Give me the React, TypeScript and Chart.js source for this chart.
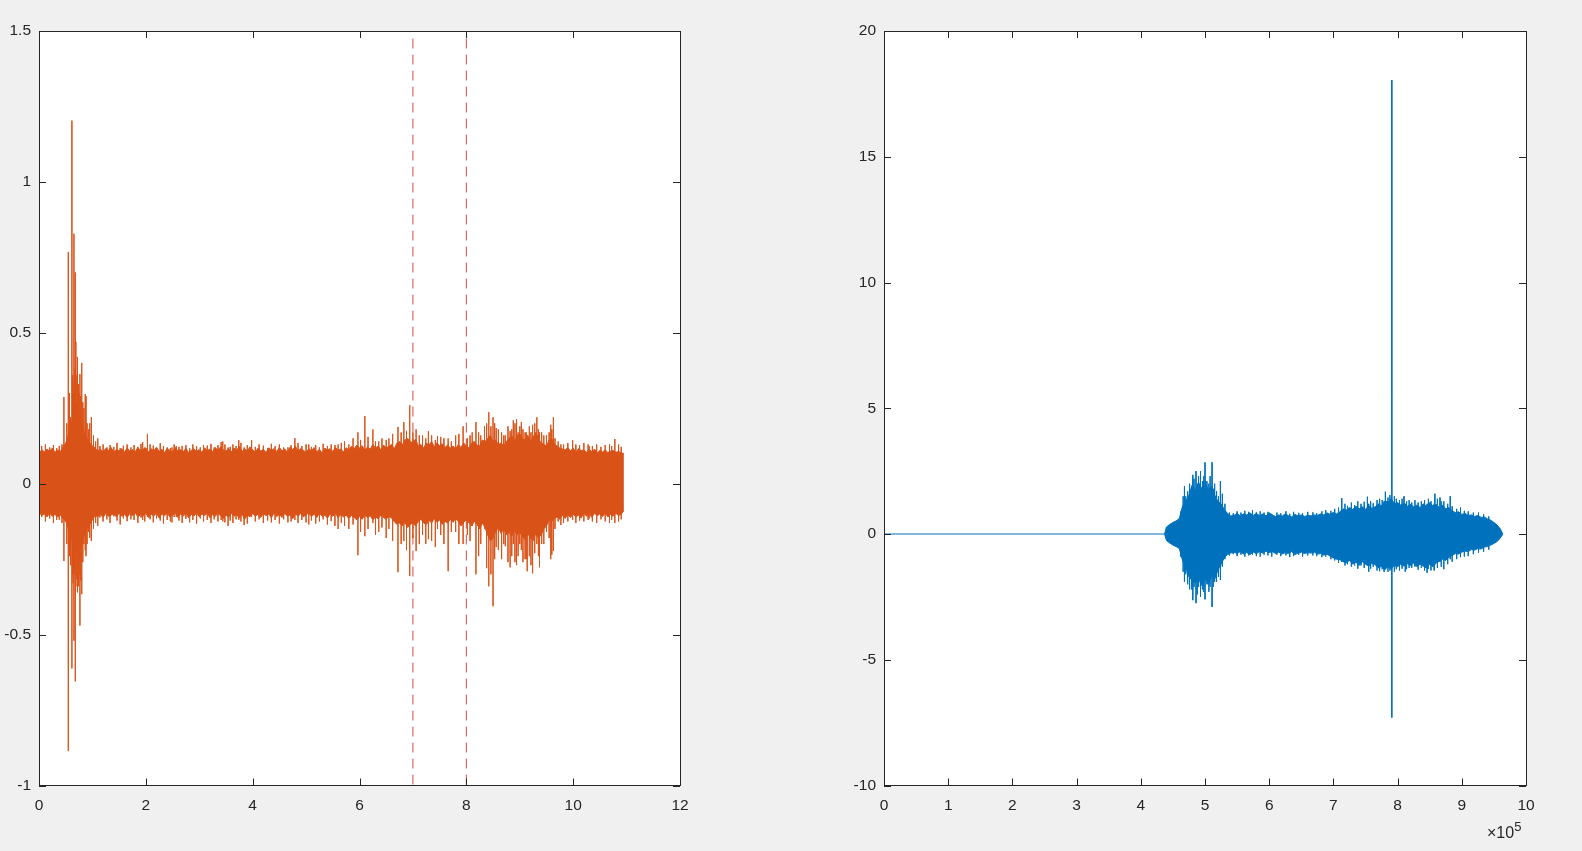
// App.tsx
import React, { useEffect, useRef } from 'react';
import { Chart, registerables } from 'chart.js';

Chart.register(...registerables);

const yTicksLeft = [-1, -0.5, 0, 0.5, 1, 1.5];
const xTicksLeft = [0, 2, 4, 6, 8, 10, 12];
const yTicksRight = [-10, -5, 0, 5, 10, 15, 20];
const xTicksRight = [0, 1, 2, 3, 4, 5, 6, 7, 8, 9, 10];

// left signal, outline of the solid body
const leftX = [
  0, 0.05, 0.1, 0.15, 0.2, 0.25, 0.3, 0.35, 0.4, 0.45,
  0.5, 0.55, 0.6, 0.65, 0.7, 0.75, 0.8, 0.85, 0.9, 0.95,
  1, 1.05, 1.1, 1.15, 1.2, 1.25, 1.3, 1.35, 1.4, 1.45,
  1.5, 1.55, 1.6, 1.65, 1.7, 1.75, 1.8, 1.85, 1.9, 1.95,
  2, 2.05, 2.1, 2.15, 2.2, 2.25, 2.3, 2.35, 2.4, 2.45,
  2.5, 2.55, 2.6, 2.65, 2.7, 2.75, 2.8, 2.85, 2.9, 2.95,
  3, 3.05, 3.1, 3.15, 3.2, 3.25, 3.3, 3.35, 3.4, 3.45,
  3.5, 3.55, 3.6, 3.65, 3.7, 3.75, 3.8, 3.85, 3.9, 3.95,
  4, 4.05, 4.1, 4.15, 4.2, 4.25, 4.3, 4.35, 4.4, 4.45,
  4.5, 4.55, 4.6, 4.65, 4.7, 4.75, 4.8, 4.85, 4.9, 4.95,
  5, 5.05, 5.1, 5.15, 5.2, 5.25, 5.3, 5.35, 5.4, 5.45,
  5.5, 5.55, 5.6, 5.65, 5.7, 5.75, 5.8, 5.85, 5.9, 5.95,
  6, 6.05, 6.1, 6.15, 6.2, 6.25, 6.3, 6.35, 6.4, 6.45,
  6.5, 6.55, 6.6, 6.65, 6.7, 6.75, 6.8, 6.85, 6.9, 6.95,
  7, 7.05, 7.1, 7.15, 7.2, 7.25, 7.3, 7.35, 7.4, 7.45,
  7.5, 7.55, 7.6, 7.65, 7.7, 7.75, 7.8, 7.85, 7.9, 7.95,
  8, 8.05, 8.1, 8.15, 8.2, 8.25, 8.3, 8.35, 8.4, 8.45,
  8.5, 8.55, 8.6, 8.65, 8.7, 8.75, 8.8, 8.85, 8.9, 8.95,
  9, 9.05, 9.1, 9.15, 9.2, 9.25, 9.3, 9.35, 9.4, 9.45,
  9.5, 9.55, 9.6, 9.65, 9.7, 9.75, 9.8, 9.85, 9.9, 9.95,
  10, 10.05, 10.1, 10.15, 10.2, 10.25, 10.3, 10.35, 10.4, 10.45,
  10.5, 10.55, 10.6, 10.65, 10.7, 10.75, 10.8, 10.85, 10.9, 10.95,
];
const leftHi = [
  0.102, 0.112, 0.106, 0.114, 0.108, 0.118, 0.104, 0.112, 0.107, 0.122,
  0.135, 0.16, 0.195, 0.235, 0.262, 0.24, 0.195, 0.17, 0.15, 0.135,
  0.125, 0.118, 0.108, 0.114, 0.106, 0.117, 0.11, 0.12, 0.105, 0.113,
  0.109, 0.116, 0.104, 0.119, 0.108, 0.113, 0.106, 0.12, 0.11, 0.115,
  0.118, 0.105, 0.116, 0.109, 0.121, 0.107, 0.114, 0.103, 0.117, 0.11,
  0.104, 0.12, 0.108, 0.113, 0.105, 0.118, 0.102, 0.111, 0.116, 0.107,
  0.113, 0.104, 0.119, 0.109, 0.115, 0.106, 0.12, 0.11, 0.122, 0.112,
  0.108, 0.116, 0.105, 0.118, 0.11, 0.124, 0.107, 0.115, 0.109, 0.122,
  0.112, 0.105, 0.118, 0.108, 0.114, 0.103, 0.119, 0.11, 0.116, 0.107,
  0.12, 0.109, 0.115, 0.105, 0.121, 0.113, 0.124, 0.108, 0.117, 0.11,
  0.104, 0.116, 0.109, 0.12, 0.106, 0.114, 0.102, 0.118, 0.111, 0.116,
  0.107, 0.121, 0.11, 0.115, 0.105, 0.119, 0.112, 0.124, 0.116, 0.128,
  0.118, 0.126, 0.11, 0.122, 0.114, 0.13, 0.118, 0.125, 0.112, 0.128,
  0.119, 0.124, 0.13, 0.115, 0.135, 0.14, 0.128, 0.145, 0.15, 0.14,
  0.135, 0.148, 0.125, 0.13, 0.118, 0.135, 0.128, 0.14, 0.122, 0.136,
  0.125, 0.132, 0.12, 0.128, 0.118, 0.125, 0.115, 0.13, 0.12, 0.135,
  0.125, 0.118, 0.135, 0.14, 0.128, 0.125, 0.145, 0.14, 0.15, 0.16,
  0.14, 0.145, 0.13, 0.135, 0.125, 0.14, 0.15, 0.16, 0.14, 0.158,
  0.165, 0.15, 0.145, 0.16, 0.14, 0.155, 0.17, 0.15, 0.135, 0.13,
  0.125, 0.145, 0.15, 0.13, 0.125, 0.118, 0.115, 0.112, 0.12, 0.108,
  0.118, 0.105, 0.116, 0.11, 0.112, 0.104, 0.114, 0.106, 0.115, 0.102,
  0.11, 0.105, 0.112, 0.103, 0.108, 0.11, 0.104, 0.107, 0.102, 0.1,
];
const leftLo = [
  -0.095, -0.105, -0.1, -0.11, -0.098, -0.108, -0.102, -0.11, -0.104, -0.115,
  -0.125, -0.15, -0.18, -0.21, -0.235, -0.22, -0.19, -0.175, -0.15, -0.135,
  -0.12, -0.105, -0.11, -0.1, -0.112, -0.098, -0.108, -0.104, -0.1, -0.11,
  -0.097, -0.108, -0.102, -0.112, -0.099, -0.106, -0.096, -0.11, -0.103, -0.108,
  -0.098, -0.112, -0.101, -0.107, -0.097, -0.114, -0.1, -0.106, -0.098, -0.11,
  -0.104, -0.096, -0.112, -0.1, -0.108, -0.098, -0.113, -0.102, -0.107, -0.097,
  -0.11, -0.1, -0.106, -0.097, -0.113, -0.102, -0.108, -0.099, -0.105, -0.115,
  -0.103, -0.112, -0.098, -0.108, -0.102, -0.114, -0.1, -0.118, -0.104, -0.11,
  -0.098, -0.108, -0.101, -0.112, -0.098, -0.106, -0.1, -0.113, -0.097, -0.109,
  -0.102, -0.112, -0.099, -0.107, -0.104, -0.116, -0.1, -0.108, -0.098, -0.11,
  -0.103, -0.097, -0.109, -0.101, -0.112, -0.098, -0.108, -0.104, -0.114, -0.1,
  -0.108, -0.098, -0.113, -0.102, -0.11, -0.104, -0.116, -0.105, -0.112, -0.12,
  -0.108, -0.118, -0.104, -0.112, -0.106, -0.12, -0.11, -0.116, -0.104, -0.112,
  -0.118, -0.108, -0.114, -0.125, -0.135, -0.13, -0.14, -0.128, -0.145, -0.135,
  -0.13, -0.14, -0.125, -0.118, -0.13, -0.135, -0.122, -0.13, -0.115, -0.128,
  -0.12, -0.135, -0.125, -0.13, -0.118, -0.128, -0.115, -0.125, -0.14, -0.128,
  -0.12, -0.13, -0.14, -0.125, -0.135, -0.15, -0.13, -0.145, -0.17, -0.19,
  -0.18, -0.16, -0.145, -0.165, -0.15, -0.17, -0.16, -0.175, -0.155, -0.17,
  -0.16, -0.175, -0.185, -0.165, -0.18, -0.19, -0.165, -0.18, -0.17, -0.15,
  -0.14, -0.12, -0.125, -0.115, -0.11, -0.118, -0.105, -0.115, -0.102, -0.112,
  -0.1, -0.11, -0.104, -0.114, -0.098, -0.108, -0.1, -0.112, -0.098, -0.106,
  -0.1, -0.109, -0.097, -0.11, -0.102, -0.108, -0.098, -0.106, -0.1, -0.09,
];

// left signal, the tall single spikes
const leftSpikeX = [
  0.466, 0.549, 0.616, 0.654, 0.68, 0.69, 0.71, 0.766, 0.8, 0.866, 0.95, 1.1,
  2.03, 2.49, 2.57, 1.94, 3.41, 3.54, 3.44, 3.74, 3.84, 3.98, 4.66, 4.79, 5.05, 5.6,
  5.97, 6.1, 6.25, 6.36, 6.55, 6.72, 6.83, 6.94, 7.06, 7.18, 7.29, 7.46, 7.66, 7.8, 7.94,
  8.11, 8.18, 8.27, 8.34, 8.42, 8.5, 8.56, 8.73, 8.82, 8.88, 8.94, 8.97, 9.03, 9.1,
  9.14, 9.24, 9.32, 9.37, 9.45, 9.58, 9.63, 9.77, 9.99, 10.3, 10.78,
];
const leftSpikeHi = [
  0.287, 0.768, 1.203, 0.828, 0.7, 0.47, 0.36, 0.363, 0.4, 0.297, 0.2, 0.15,
  0.165, 0.12, 0.125, 0.138, 0.138, 0.12, 0.14, 0.144, 0.12, 0.144, 0.12, 0.151, 0.13, 0.13,
  0.17, 0.224, 0.18, 0.14, 0.15, 0.188, 0.204, 0.26, 0.18, 0.16, 0.174, 0.158, 0.15, 0.16, 0.19,
  0.17, 0.204, 0.16, 0.19, 0.237, 0.22, 0.184, 0.16, 0.174, 0.21, 0.214, 0.17, 0.204, 0.17,
  0.16, 0.195, 0.22, 0.17, 0.16, 0.195, 0.22, 0.13, 0.144, 0.125, 0.148,
];
const leftSpikeLo = [
  -0.256, -0.886, -0.612, -0.52, -0.655, -0.34, -0.316, -0.47, -0.366, -0.22, -0.18, -0.14,
  -0.11, -0.128, -0.11, -0.12, -0.12, -0.14, -0.125, -0.12, -0.137, -0.11, -0.128, -0.12, -0.135, -0.15,
  -0.237, -0.174, -0.13, -0.16, -0.15, -0.293, -0.19, -0.306, -0.223, -0.17, -0.184, -0.15, -0.29, -0.16, -0.2,
  -0.14, -0.3, -0.2, -0.15, -0.34, -0.406, -0.21, -0.207, -0.277, -0.2, -0.27, -0.24, -0.22, -0.25,
  -0.29, -0.297, -0.2, -0.277, -0.2, -0.25, -0.223, -0.137, -0.12, -0.115, -0.13,
];

// left signal, the small spikes that make the edge of the body rough
const leftFineX = [
  0.05, 0.12, 0.2, 0.27, 0.33, 0.38, 0.43,
  0.52, 0.57, 0.59, 0.63, 0.64, 0.66, 0.67, 0.72, 0.74, 0.75, 0.78, 0.82, 0.84, 0.88, 0.9, 0.93, 0.98, 1.02, 1.06,
  1.14, 1.2, 1.27, 1.33, 1.4, 1.46, 1.52, 1.58, 1.65, 1.72,
  1.78, 1.85, 1.91, 1.98, 2.08, 2.14, 2.2, 2.27, 2.33, 2.4,
  2.46, 2.53, 2.62, 2.68, 2.75, 2.82, 2.88, 2.95, 3.02, 3.08,
  3.15, 3.22, 3.28, 3.35, 3.48, 3.58, 3.63, 3.69, 3.78, 3.9,
  4.05, 4.12, 4.2, 4.28, 4.35, 4.42, 4.5, 4.58, 4.72, 4.85,
  4.92, 5.0, 5.1, 5.18, 5.25, 5.32, 5.4, 5.47, 5.54, 5.66,
  5.72, 5.8, 5.88, 6.02, 6.16, 6.3, 6.42, 6.5, 6.62, 6.78,
  6.88, 7.0, 7.12, 7.24, 7.35, 7.42, 7.52, 7.58, 7.72, 7.86,
  8.02, 8.07, 8.23, 8.38, 8.46, 8.53, 8.6, 8.66, 8.7, 8.78,
  8.85, 8.91, 9.0, 9.06, 9.12, 9.18, 9.21, 9.28, 9.35, 9.41,
  9.5, 9.55, 9.6, 9.66, 9.72, 9.82, 9.9, 10.05, 10.12, 10.2,
  10.28, 10.36, 10.44, 10.52, 10.6, 10.68, 10.72, 10.85, 10.9,
];
const leftFineHi = [
  0.125, 0.13, 0.12, 0.128, 0.118, 0.125, 0.13,
  0.2, 0.3, 0.22, 0.36, 0.3, 0.34, 0.38, 0.42, 0.33, 0.3, 0.29, 0.27, 0.25, 0.29, 0.2, 0.18, 0.22, 0.16, 0.14,
  0.125, 0.13, 0.12, 0.128, 0.122, 0.135, 0.118, 0.126, 0.13, 0.12,
  0.128, 0.122, 0.132, 0.12, 0.13, 0.126, 0.118, 0.134, 0.125, 0.12,
  0.118, 0.13, 0.122, 0.125, 0.128, 0.118, 0.13, 0.124, 0.12, 0.128,
  0.126, 0.132, 0.12, 0.128, 0.13, 0.122, 0.13, 0.125, 0.135, 0.128,
  0.122, 0.13, 0.126, 0.118, 0.132, 0.124, 0.13, 0.12, 0.128, 0.135,
  0.125, 0.13, 0.122, 0.128, 0.12, 0.132, 0.125, 0.13, 0.128, 0.135,
  0.14, 0.13, 0.15, 0.145, 0.155, 0.14, 0.15, 0.145, 0.165, 0.17,
  0.175, 0.17, 0.16, 0.15, 0.16, 0.145, 0.155, 0.15, 0.14, 0.165,
  0.15, 0.16, 0.17, 0.2, 0.19, 0.2, 0.18, 0.17, 0.16, 0.19,
  0.18, 0.2, 0.19, 0.18, 0.17, 0.19, 0.17, 0.2, 0.18, 0.17,
  0.16, 0.17, 0.18, 0.15, 0.14, 0.13, 0.135, 0.13, 0.128, 0.135,
  0.13, 0.125, 0.13, 0.122, 0.128, 0.13, 0.125, 0.13, 0.122,
];
const leftFineLo = [
  -0.11, -0.125, -0.115, -0.13, -0.12, -0.12, -0.13,
  -0.2, -0.24, -0.27, -0.3, -0.33, -0.28, -0.3, -0.36, -0.34, -0.3, -0.32, -0.26, -0.2, -0.24, -0.2, -0.16, -0.19, -0.15, -0.13,
  -0.112, -0.125, -0.118, -0.13, -0.108, -0.122, -0.135, -0.115, -0.124, -0.118,
  -0.12, -0.13, -0.112, -0.125, -0.118, -0.128, -0.115, -0.122, -0.132, -0.12,
  -0.125, -0.11, -0.122, -0.13, -0.116, -0.128, -0.12, -0.132, -0.115, -0.125,
  -0.12, -0.13, -0.118, -0.125, -0.128, -0.122, -0.13, -0.118, -0.125, -0.132,
  -0.125, -0.118, -0.13, -0.122, -0.128, -0.12, -0.132, -0.118, -0.125, -0.13,
  -0.12, -0.128, -0.122, -0.132, -0.125, -0.118, -0.135, -0.124, -0.14, -0.13,
  -0.14, -0.15, -0.135, -0.16, -0.15, -0.17, -0.145, -0.18, -0.19, -0.2,
  -0.22, -0.18, -0.2, -0.2, -0.19, -0.21, -0.17, -0.2, -0.16, -0.2,
  -0.17, -0.19, -0.24, -0.28, -0.3, -0.25, -0.22, -0.25, -0.2, -0.26,
  -0.24, -0.26, -0.2, -0.26, -0.25, -0.24, -0.27, -0.23, -0.24, -0.2,
  -0.16, -0.18, -0.235, -0.15, -0.125, -0.13, -0.125, -0.13, -0.122, -0.125,
  -0.12, -0.125, -0.13, -0.118, -0.125, -0.13, -0.12, -0.125, -0.118,
];
const markerX = [7, 8];
const markerTop = 1.475;

// right signal, x in units of 1e5
const rightFlatX = [0, 4.37];
const rightFlatY = [0, 0];
const rightX = [
  4.37, 4.4, 4.45, 4.5, 4.55, 4.6, 4.65, 4.7, 4.75, 4.8, 4.85, 4.9, 4.95, 5, 5.05, 5.1, 5.15, 5.2, 5.25, 5.3, 5.35, 5.4,
  5.45, 5.5, 5.55, 5.6, 5.65, 5.7, 5.75, 5.8, 5.85, 5.9, 5.95, 6, 6.05, 6.1,
  6.15, 6.2, 6.25, 6.3, 6.35, 6.4, 6.45, 6.5, 6.55, 6.6,
  6.65, 6.7, 6.75, 6.8, 6.85, 6.9, 6.95, 7, 7.05, 7.1,
  7.15, 7.2, 7.25, 7.3, 7.35, 7.4, 7.45, 7.5, 7.55, 7.6,
  7.65, 7.7, 7.75, 7.8, 7.85, 7.9, 7.95, 8, 8.05, 8.1,
  8.15, 8.2, 8.25, 8.3, 8.35, 8.4, 8.45, 8.5, 8.55, 8.6,
  8.65, 8.7, 8.75, 8.8, 8.85, 8.9, 8.95, 9, 9.05, 9.1,
  9.15, 9.2, 9.25, 9.3, 9.35, 9.4, 9.45, 9.5, 9.55, 9.6, 9.64,
];
const rightHi = [
  0, 0.28, 0.38, 0.46, 0.52, 0.62, 1.1, 1.3, 1.55, 1.95, 1.7, 2.05, 1.8, 2.1, 1.75, 1.9, 1.55, 1.3, 1.2, 0.98, 0.82, 0.72,
  0.74, 0.82, 0.72, 0.8, 0.76, 0.84, 0.74, 0.82, 0.73, 0.8, 0.72, 0.84, 0.75, 0.7,
  0.76, 0.71, 0.8, 0.73, 0.68, 0.78, 0.72, 0.76, 0.7, 0.74,
  0.72, 0.76, 0.74, 0.8, 0.76, 0.84, 0.78, 0.86, 0.8, 0.88,
  1.0, 0.95, 1.05, 0.98, 1.1, 1.0, 1.08, 0.98, 1.12, 1.02,
  1.08, 1.2, 1.12, 1.3, 1.28, 1.4, 1.2, 1.25, 1.15, 1.22,
  1.1, 1.18, 1.08, 1.15, 1.05, 1.2, 1.1, 1.25, 1.12, 1.18,
  1.05, 1.15, 1.0, 1.05, 0.92, 0.85, 0.88, 0.78, 0.82, 0.74,
  0.76, 0.7, 0.74, 0.66, 0.68, 0.6, 0.55, 0.46, 0.36, 0.2, 0,
];
const rightLo = [
  0, -0.26, -0.36, -0.44, -0.5, -0.58, -1.05, -1.35, -1.7, -1.85, -1.95, -1.8, -2.05, -1.75, -2.0, -1.7, -1.8, -1.45, -1.2, -0.95, -0.82, -0.76,
  -0.72, -0.78, -0.7, -0.8, -0.74, -0.82, -0.72, -0.78, -0.7, -0.76, -0.68, -0.74, -0.7, -0.78,
  -0.72, -0.8, -0.74, -0.78, -0.7, -0.82, -0.76, -0.72, -0.78, -0.74,
  -0.76, -0.72, -0.8, -0.78, -0.84, -0.8, -0.88, -0.95, -1.0, -1.02,
  -1.1, -1.15, -1.05, -1.2, -1.12, -1.25, -1.1, -1.2, -1.28, -1.15,
  -1.22, -1.35, -1.28, -1.42, -1.3, -1.38, -1.25, -1.3, -1.2, -1.28,
  -1.18, -1.25, -1.15, -1.3, -1.2, -1.28, -1.35, -1.2, -1.3, -1.15,
  -1.08, -1.0, -1.05, -0.92, -0.85, -0.78, -0.8, -0.72, -0.68, -0.7,
  -0.62, -0.64, -0.58, -0.6, -0.52, -0.5, -0.44, -0.38, -0.3, -0.16, 0,
];
const rightSpikeX = [4.68, 4.81, 4.86, 4.93, 5.0, 5.11, 5.24, 7.13, 7.53, 7.55, 7.79, 7.81, 7.91, 8.1, 8.12, 8.46, 8.57, 8.58, 8.66, 8.82];
const rightSpikeHi = [1.9, 2.35, 2.5, 2.5, 2.85, 2.85, 2.1, 1.43, 1.48, 1.2, 1.3, 1.68, 18.05, 1.5, 1.2, 1.2, 1.2, 1.6, 1.45, 1.5];
const rightSpikeLo = [-1.9, -2.63, -2.75, -2.5, -2.6, -2.9, -1.83, -1.1, -1.2, -1.5, -1.5, -1.3, -7.3, -1.2, -1.5, -1.54, -1.45, -1.2, -1.1, -1.0];
const rightFineX = [
  4.62, 4.66, 4.7, 4.73, 4.76, 4.79, 4.83, 4.88, 4.9, 4.96,
  4.98, 5.03, 5.06, 5.08, 5.13, 5.15, 5.18, 5.21, 5.27, 5.31,
  5.38, 5.44, 5.5, 5.56, 5.62, 5.68, 5.74, 5.8, 5.86, 5.92,
  5.98, 6.04, 6.12, 6.18, 6.26, 6.32, 6.38, 6.46, 6.52, 6.6,
  6.68, 6.74, 6.82, 6.88, 6.96, 7.02, 7.08,
  7.18, 7.22, 7.28, 7.33, 7.38, 7.43, 7.48, 7.58, 7.62, 7.68,
  7.72, 7.76, 7.85, 7.88, 7.95, 7.98, 8.03, 8.07, 8.14, 8.18,
  8.22, 8.27, 8.32, 8.37, 8.42, 8.48, 8.52, 8.62, 8.68, 8.72,
  8.78, 8.85, 8.92, 8.98, 9.04, 9.1, 9.18, 9.26, 9.34, 9.42,
];
const rightFineHi = [
  0.9, 1.5, 1.5, 1.7, 2.0, 1.9, 2.2, 2.0, 2.3, 2.1,
  2.3, 2.1, 2.0, 2.3, 1.8, 2.0, 1.7, 1.5, 1.6, 1.2,
  0.85, 0.82, 0.9, 0.85, 0.92, 0.88, 0.95, 0.86, 0.9, 0.85,
  0.88, 0.8, 0.85, 0.82, 0.9, 0.8, 0.88, 0.84, 0.82, 0.88,
  0.86, 0.82, 0.9, 0.95, 0.92, 1.0, 1.05,
  1.2, 1.12, 1.25, 1.15, 1.3, 1.2, 1.28, 1.3, 1.22, 1.35,
  1.4, 1.35, 1.45, 1.55, 1.5, 1.4, 1.35, 1.4, 1.3, 1.35,
  1.25, 1.35, 1.25, 1.3, 1.35, 1.4, 1.3, 1.4, 1.3, 1.3,
  1.2, 1.1, 1.0, 1.05, 0.92, 0.9, 0.85, 0.85, 0.78, 0.7,
];
const rightFineLo = [
  -0.9, -1.5, -1.6, -2.0, -2.2, -2.2, -2.1, -2.4, -2.1, -2.2,
  -2.3, -2.0, -2.3, -2.1, -2.1, -1.9, -1.9, -1.7, -1.3, -1.0,
  -0.85, -0.8, -0.88, -0.82, -0.9, -0.85, -0.82, -0.88, -0.9, -0.82,
  -0.85, -0.9, -0.82, -0.88, -0.85, -0.92, -0.88, -0.82, -0.9, -0.85,
  -0.85, -0.88, -0.92, -0.9, -1.0, -1.05, -1.15,
  -1.25, -1.2, -1.3, -1.25, -1.38, -1.25, -1.35, -1.38, -1.3, -1.45,
  -1.48, -1.4, -1.5, -1.45, -1.5, -1.4, -1.45, -1.38, -1.4, -1.35,
  -1.35, -1.3, -1.42, -1.35, -1.45, -1.38, -1.45, -1.35, -1.3, -1.4,
  -1.2, -1.1, -1.0, -0.92, -0.9, -0.88, -0.8, -0.75, -0.7, -0.62,
];

const zip = (xs: number[], ys: number[]) => xs.map((x, i) => ({ x, y: ys[i] }));
const spikes = (xs: number[], hi: number[], lo: number[]) =>
  xs.flatMap((x, i) => [{ x, y: hi[i] }, { x, y: lo[i] }, { x, y: NaN }]);

const FONT = '"Liberation Sans", Arial, sans-serif';
const TEXT = '#262626';

// white plot background, box and inward ticks on all four sides
const boxPlugin = {
  id: 'box',
  beforeDatasetsDraw(chart: Chart) {
    const { ctx, chartArea: a } = chart;
    ctx.save();
    ctx.fillStyle = '#ffffff';
    ctx.fillRect(a.left, a.top, a.right - a.left, a.bottom - a.top);
    ctx.restore();
  },
  afterDatasetsDraw(chart: Chart) {
    const { ctx, chartArea: a, scales } = chart;
    const tick = 7;
    ctx.save();
    ctx.strokeStyle = TEXT;
    ctx.lineWidth = 1;
    ctx.beginPath();
    scales.x.ticks.forEach((t) => {
      const px = Math.round(scales.x.getPixelForValue(t.value)) + 0.5;
      ctx.moveTo(px, a.bottom);
      ctx.lineTo(px, a.bottom - tick);
      ctx.moveTo(px, a.top);
      ctx.lineTo(px, a.top + tick);
    });
    scales.y.ticks.forEach((t) => {
      const py = Math.round(scales.y.getPixelForValue(t.value)) + 0.5;
      ctx.moveTo(a.left, py);
      ctx.lineTo(a.left + tick, py);
      ctx.moveTo(a.right, py);
      ctx.lineTo(a.right - tick, py);
    });
    ctx.stroke();
    ctx.strokeRect(Math.round(a.left) + 0.5, Math.round(a.top) + 0.5, Math.floor(a.right - a.left), Math.floor(a.bottom - a.top));
    ctx.restore();
  },
};

interface PanelProps {
  left: number;
  width: number;
  axisWidth: number;
  padRight: number;
  xTicks: number[];
  yTicks: number[];
  datasets: any[];
}

const Panel: React.FC<PanelProps> = ({ left, width, axisWidth, padRight, xTicks, yTicks, datasets }) => {
  const canvasRef = useRef<HTMLCanvasElement | null>(null);

  useEffect(() => {
    if (!canvasRef.current) return;
    const chart = new Chart(canvasRef.current, {
      type: 'scatter',
      data: { datasets },
      plugins: [boxPlugin],
      options: {
        animation: false,
        responsive: false,
        layout: { padding: { top: 31, right: padRight, left: 0, bottom: 0 } },
        plugins: { legend: { display: false }, tooltip: { enabled: false } },
        elements: { point: { radius: 0 }, line: { borderWidth: 1, tension: 0 } },
        scales: {
          x: {
            type: 'linear',
            min: xTicks[0],
            max: xTicks[xTicks.length - 1],
            border: { display: false },
            grid: { display: false, drawTicks: false },
            afterBuildTicks: (s: any) => { s.ticks = xTicks.map((value) => ({ value })); },
            afterFit: (s: any) => { s.height = 65.5; },
            ticks: { color: TEXT, font: { family: FONT, size: 15.5 }, padding: 11, maxRotation: 0, autoSkip: false, callback: (v: any) => String(v) },
          },
          y: {
            type: 'linear',
            min: yTicks[0],
            max: yTicks[yTicks.length - 1],
            border: { display: false },
            grid: { display: false, drawTicks: false },
            afterBuildTicks: (s: any) => { s.ticks = yTicks.map((value) => ({ value })); },
            afterFit: (s: any) => { s.width = axisWidth; },
            ticks: { color: TEXT, font: { family: FONT, size: 15.5 }, padding: 8, autoSkip: false, callback: (v: any) => String(v) },
          },
        },
      },
    });
    return () => chart.destroy();
  }, []);

  return (
    <canvas
      ref={canvasRef}
      width={width}
      height={851}
      style={{ position: 'absolute', left, top: 0, width, height: 851 }}
    />
  );
};

const ORANGE = 'rgb(217,83,25)';
const BLUE = 'rgb(0,114,189)';

const leftDatasets = [
  { data: zip(leftX, leftHi), borderColor: ORANGE, backgroundColor: ORANGE, showLine: true, fill: '+1' },
  { data: zip(leftX, leftLo), borderColor: ORANGE, showLine: true },
  { data: spikes(leftFineX, leftFineHi, leftFineLo), borderColor: 'rgba(217,83,25,0.85)', showLine: true, spanGaps: false },
  { data: spikes(leftSpikeX, leftSpikeHi, leftSpikeLo), borderColor: 'rgba(217,83,25,0.8)', showLine: true, spanGaps: false },
  ...markerX.map((x) => ({
    data: [{ x, y: markerTop }, { x, y: -1 }],
    borderColor: 'rgba(205,45,35,0.85)',
    borderDash: [10, 6],
    showLine: true,
  })),
];

const rightDatasets = [
  { data: zip(rightFlatX, rightFlatY), borderColor: BLUE, showLine: true },
  { data: zip(rightX, rightHi), borderColor: BLUE, backgroundColor: BLUE, showLine: true, fill: '+1' },
  { data: zip(rightX, rightLo), borderColor: BLUE, showLine: true },
  { data: spikes(rightFineX, rightFineHi, rightFineLo), borderColor: 'rgba(0,114,189,0.85)', showLine: true, spanGaps: false },
  { data: spikes(rightSpikeX, rightSpikeHi, rightSpikeLo), borderColor: BLUE, showLine: true, spanGaps: false },
];

const App: React.FC = () => (
  <div style={{ position: 'fixed', left: 0, top: 0, width: 1582, height: 851, background: '#f0f0f0', overflow: 'hidden' }}>
    <Panel left={0} width={780} axisWidth={39} padRight={100} xTicks={xTicksLeft} yTicks={yTicksLeft} datasets={leftDatasets} />
    <Panel left={800} width={782} axisWidth={84} padRight={56} xTicks={xTicksRight} yTicks={yTicksRight} datasets={rightDatasets} />
    <div style={{ position: 'absolute', left: 1487, top: 823, font: `16px ${FONT}`, color: TEXT, whiteSpace: 'nowrap', lineHeight: '20px' }}>
      ×10<sup style={{ fontSize: 13, lineHeight: 0, position: 'relative', top: -1 }}>5</sup>
    </div>
  </div>
);

export default App;
